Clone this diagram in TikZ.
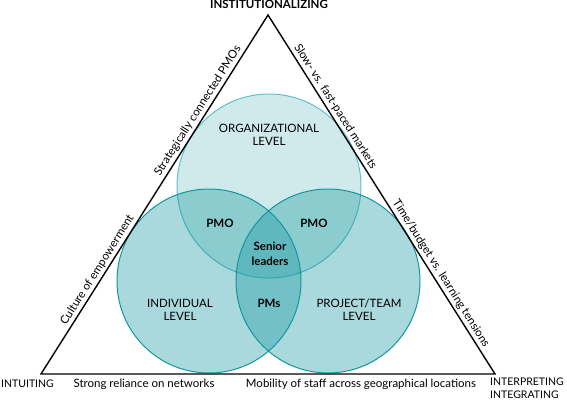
\documentclass[tikz,border=0pt]{standalone}
\usepackage{fontspec}
\setmainfont{Lato}
\usepackage{xcolor}
\usepackage{tikz}
\usetikzlibrary{positioning,calc}
\definecolor{tealdark}{RGB}{18,150,158}
\definecolor{teallight}{RGB}{96,192,200}
\tikzset{
  side/.style   ={draw,line width=1.4pt,line join=miter},
  orgc/.style   ={circle,draw=teallight,line width=1pt,fill=tealdark,fill opacity=0.2,minimum size=184pt,inner sep=0pt},
  lowc/.style   ={circle,draw=tealdark,line width=1pt,fill=tealdark,fill opacity=0.36,minimum size=184pt,inner sep=0pt},
  lbl/.style    ={font=\fontsize{11.5}{13}\selectfont,inner sep=1pt},
  lvl/.style    ={font=\fontsize{11.5}{13}\selectfont,align=center,inner sep=0pt},
  zone/.style   ={font=\fontsize{11.5}{15}\selectfont\bfseries,align=center,inner sep=0pt},
}

\begin{document}
\begin{tikzpicture}[x=1pt,y=-1pt]
  \useasboundingbox (0,0) rectangle (567,402);
  % circles
  \node[orgc] (org) at (269,186) {};
  \node[lowc] (ind) at (209,281) {};
  \node[lowc] (prj) at (328,281) {};
  % triangle
  \coordinate (apex) at (268,15);
  \coordinate (lft)  at (41,374);
  \coordinate (rgt)  at (495,374);
  \draw[side] (apex) -- (lft) -- (rgt) -- cycle;
  % corners
  \node[lbl,font=\fontsize{11.5}{13}\selectfont\bfseries] (inst) at (269,4) {INSTITUTIONALIZING};
  \node[lbl,font=\fontsize{10.5}{12}\selectfont,anchor=west,inner sep=0pt] (intu) at (1,384) {INTUITING};
  \node[lbl,font=\fontsize{10.5}{12.5}\selectfont,align=left,anchor=north west,inner sep=0pt] (intp) at (490,378) {INTERPRETING\\INTEGRATING};
  % sides
  \path (lft) -- (apex)
        node[pos=0.278,sloped,above=1.5pt,lbl] (cult) {Culture of empowerment}
        node[pos=0.721,sloped,above=1.5pt,lbl] (strat) {Strategically connected PMOs};
  \path (apex) -- (rgt)
        node[pos=0.267,sloped,above=1.5pt,lbl] (slow) {Slow- vs. fast-paced markets}
        node[pos=0.732,sloped,above=1.5pt,lbl] (time) {Time/budget vs. learning tensions};
  \node[lbl] (netw) at (144,384) {Strong reliance on networks};
  \node[lbl] (mobi) at (361,384) {Mobility of staff across geographical locations};
  % levels
  \node[lvl] (orgl) at (269,135) {ORGANIZATIONAL\\LEVEL};
  \node[lvl] (indl) at (180,310) {INDIVIDUAL\\LEVEL};
  \node[lvl] (prjl) at (359,310) {PROJECT/TEAM\\LEVEL};
  % overlaps
  \node[zone] (pmo1) at (220,223) {PMO};
  \node[zone] (pmo2) at (314,223) {PMO};
  \node[zone] (sen)  at (270,254) {Senior\\leaders};
  \node[zone] (pms)  at (269,303) {PMs};
\end{tikzpicture}
\end{document}
